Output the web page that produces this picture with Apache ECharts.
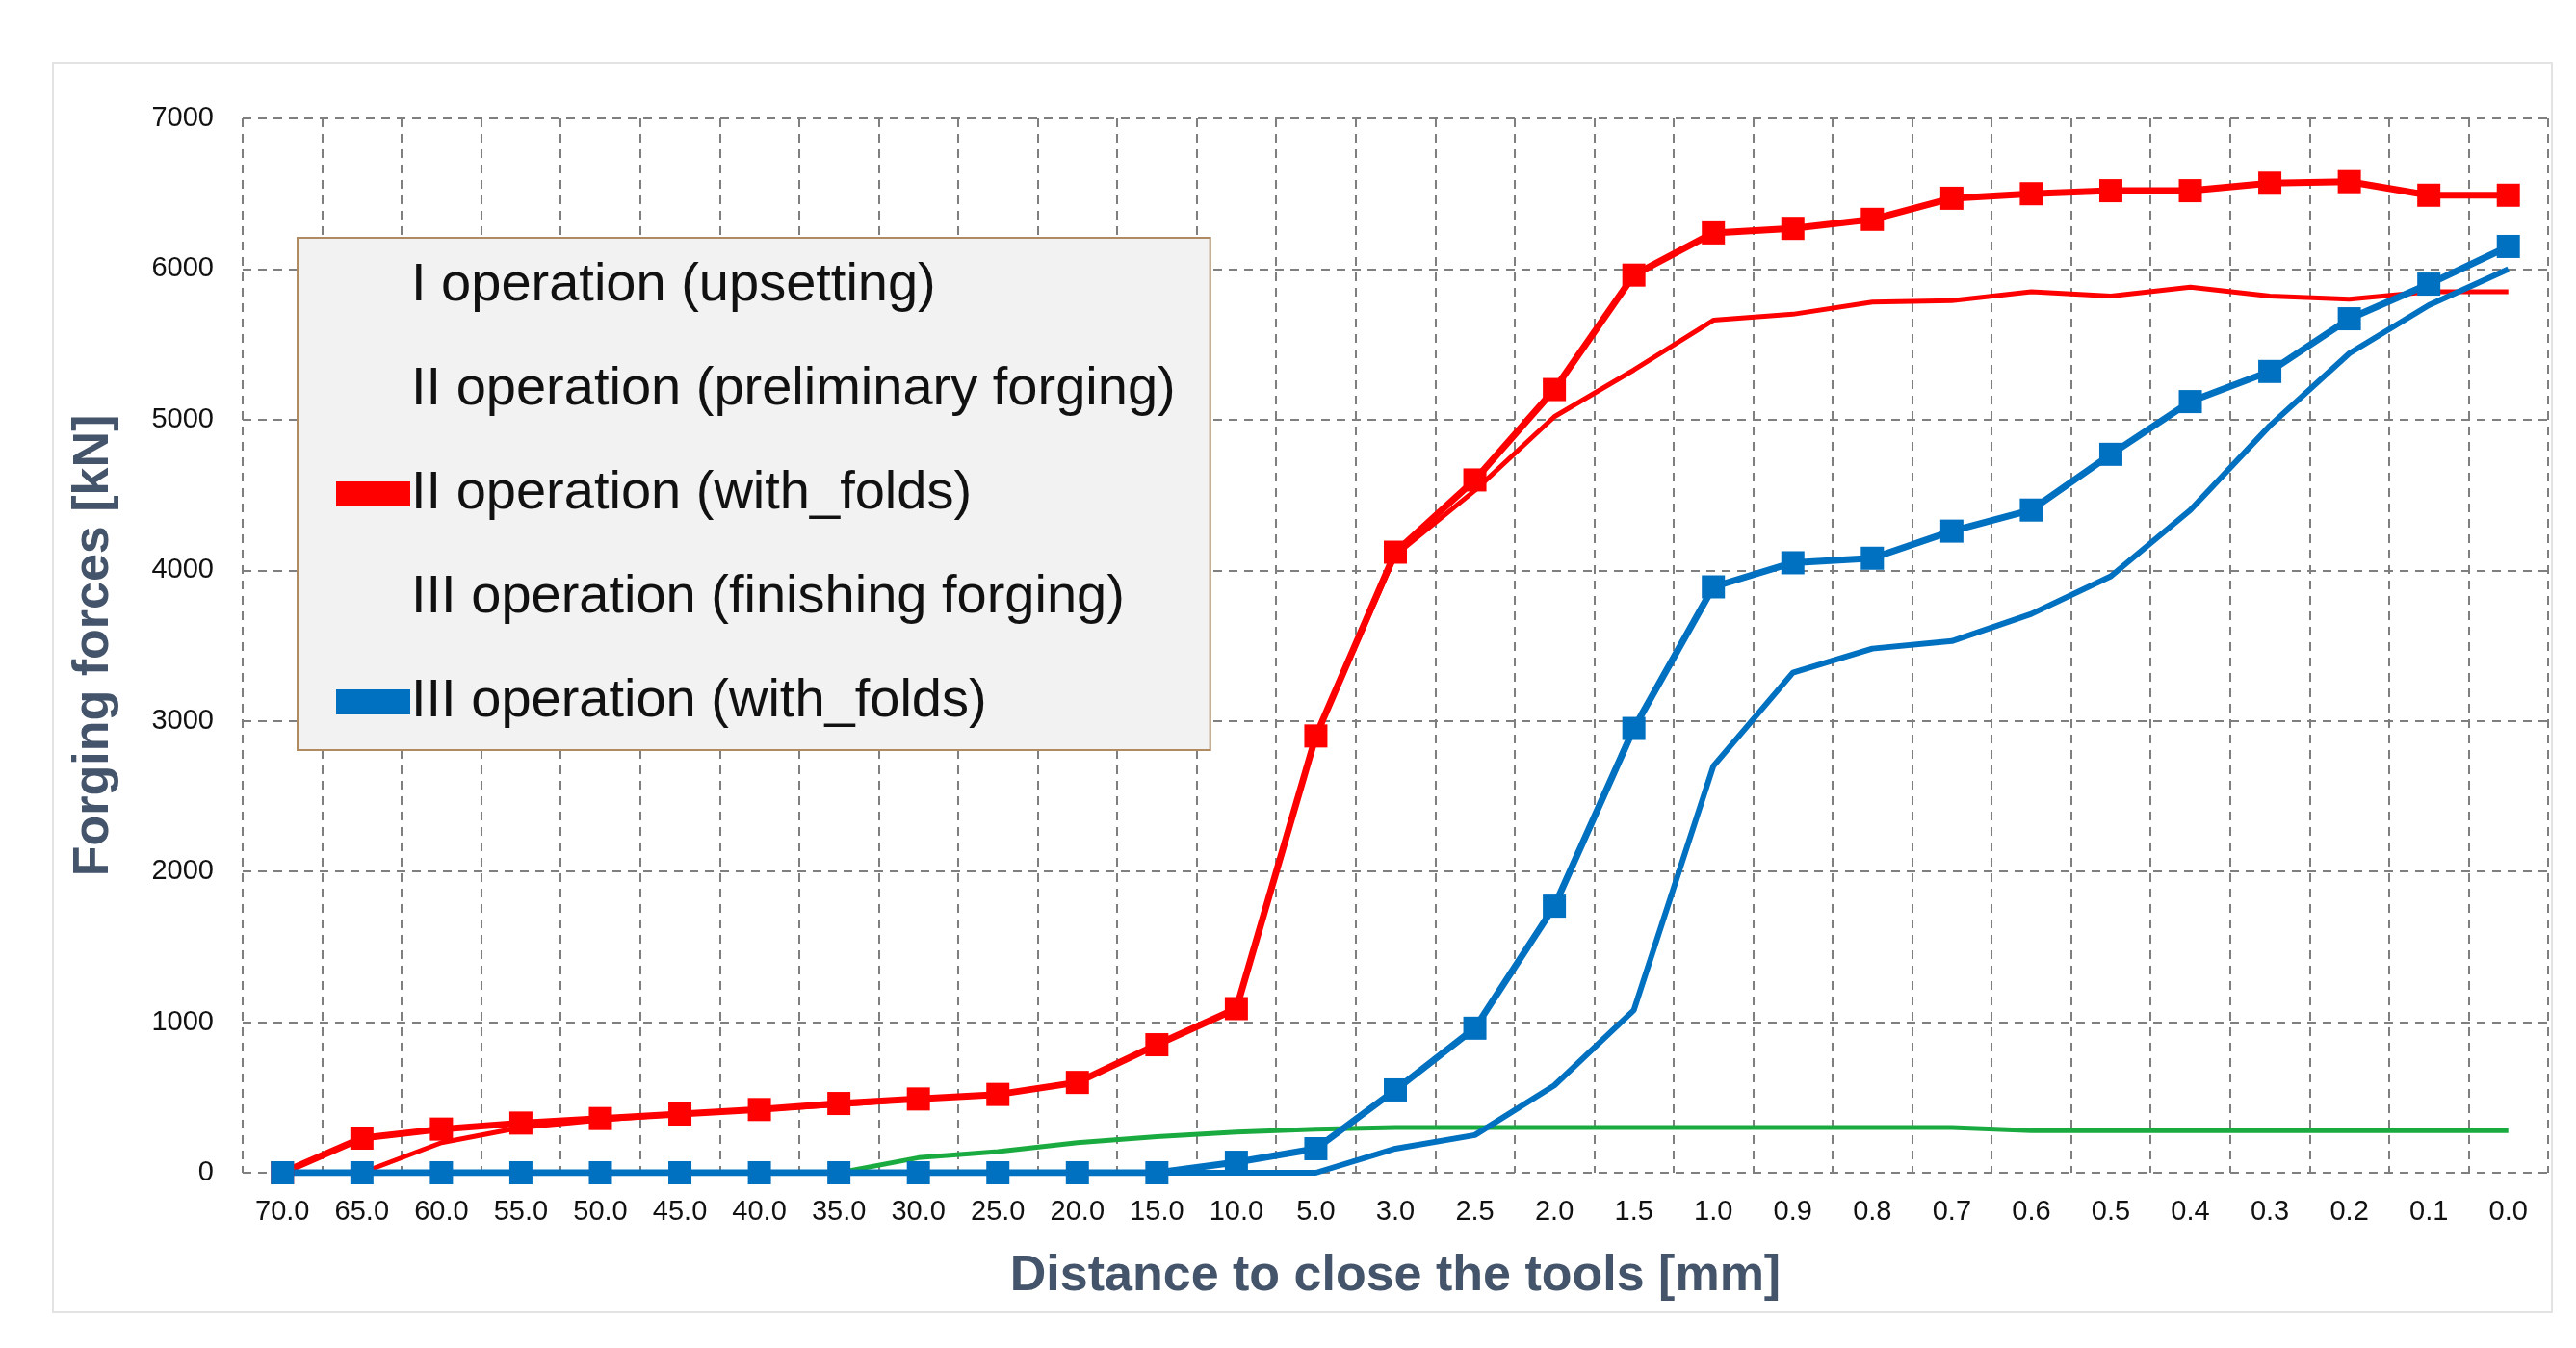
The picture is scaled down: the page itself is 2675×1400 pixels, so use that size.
<!DOCTYPE html>
<html><head><meta charset="utf-8">
<script src="https://cdn.jsdelivr.net/npm/echarts@6/dist/echarts.min.js"></script>
<style>html,body{margin:0;padding:0;background:#fff}#c{width:2675px;height:1400px}</style>
</head><body><div id="c"></div>
<script>
const categories = ['70.0','65.0','60.0','55.0','50.0','45.0','40.0','35.0','30.0','25.0','20.0','15.0','10.0','5.0','3.0','2.5','2.0','1.5','1.0','0.9','0.8','0.7','0.6','0.5','0.4','0.3','0.2','0.1','0.0'];
const upsetting = [0,0,0,0,0,0,0,0,100,140,200,240,270,290,300,300,300,300,300,300,300,300,280,280,280,280,280,280,280];
const preliminary = [0,0,200,300,350,390,420,450,490,520,600,850,1090,2900,4100,4530,5020,5330,5660,5700,5780,5790,5850,5820,5880,5820,5800,5850,5850];
const prelimFolds = [0,230,290,330,360,390,420,460,490,520,600,850,1090,2900,4120,4600,5200,5960,6240,6270,6330,6470,6500,6520,6520,6570,6580,6490,6490];
const finishing = [0,0,0,0,0,0,0,0,0,0,0,0,0,0,160,250,580,1080,2700,3320,3480,3530,3710,3960,4400,4960,5440,5760,6000];
const finishFolds = [0,0,0,0,0,0,0,0,0,0,0,0,70,160,550,960,1770,2950,3890,4050,4080,4260,4400,4770,5120,5320,5670,5900,6150];
const names = ['I operation (upsetting)','II operation (preliminary forging)','II operation (with_folds)','III operation (finishing forging)','III operation (with_folds)'];

const chart = echarts.init(document.getElementById('c'));
const font = 'Arial, "Liberation Sans", sans-serif';
function s(name, data, color, width, sym){
  return {name, type:'line', data, smooth:false, symbol: sym?'rect':'none', symbolSize:24, showSymbol:!!sym,
    lineStyle:{color, width}, itemStyle:{color}, z: sym?3:2};
}
chart.setOption({
  animation:false,
  graphic:[{type:'rect', shape:{x:55,y:65,width:2595,height:1298}, style:{fill:'none', stroke:'#e3e3e3', lineWidth:2}, z:-1}],
  grid:{left:252, right:29, top:123, bottom:182},
  legend:{orient:'vertical', left:309, top:247,
    data:[{name:names[0],icon:'none'},{name:names[1],icon:'none'},{name:names[2],icon:'rect'},{name:names[3],icon:'none'},{name:names[4],icon:'rect'}],
    backgroundColor:'#f2f2f2', borderColor:'#b08a60', borderWidth:2,
    padding:[22,36,22,40], itemGap:52, itemWidth:77, itemHeight:26,
    textStyle:{fontSize:56, fontFamily:font, color:'#111', padding:[0,0,0,-4]}},
  xAxis:{type:'category', data:categories, boundaryGap:true,
    name:'Distance to close the tools [mm]', nameLocation:'middle', nameGap:82,
    nameTextStyle:{fontSize:52, fontWeight:'bold', color:'#44546a', fontFamily:font},
    axisLine:{show:false}, axisTick:{show:false},
    axisLabel:{fontSize:29, color:'#111', fontFamily:font, interval:0, margin:26},
    splitLine:{show:true, interval:0, lineStyle:{type:[9,7], color:'#7f7f7f', width:2}}},
  yAxis:{type:'value', min:0, max:7000, interval:1000,
    name:'Forging forces [kN]', nameLocation:'middle', nameGap:128,
    nameTextStyle:{fontSize:52, fontWeight:'bold', color:'#44546a', fontFamily:font},
    axisLine:{show:false}, axisTick:{show:false},
    axisLabel:{fontSize:29, color:'#111', fontFamily:font, margin:30, formatter:v=>String(v)},
    splitLine:{show:true, lineStyle:{type:[9,7], color:'#7f7f7f', width:2}}},
  series:[
    s(names[0], upsetting, '#1aab40', 5, false),
    s(names[1], preliminary, '#ff0000', 5, false),
    s(names[2], prelimFolds, '#ff0000', 7, true),
    s(names[3], finishing, '#0070c0', 6, false),
    s(names[4], finishFolds, '#0070c0', 7, true)
  ]
});
</script></body></html>
